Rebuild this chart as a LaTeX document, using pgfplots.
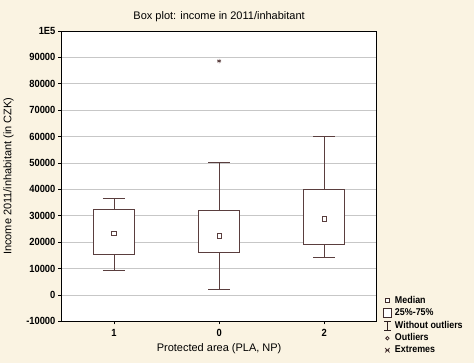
\documentclass[border=0pt]{standalone}
\usepackage{fontspec}
\setmainfont{Liberation Sans}
\newfontfamily\tickfont[FakeStretch=0.9]{Liberation Sans}
\usepackage{pgfplots}
\pgfplotsset{compat=1.18}
\definecolor{bg}{HTML}{FAF3E2}
\definecolor{bx}{HTML}{5A3E3E}
\begin{document}
\begin{tikzpicture}
\fill[bg] (0pt,0pt) rectangle (474pt,363pt);
\begin{axis}[
  at={(61pt,41.3pt)}, anchor=south west,
  scale only axis, width=315.7pt, height=290.7pt,
  xmin=0.5, xmax=3.5, ymin=-10000, ymax=100000,
  axis background/.style={fill=white},
  xtick={1,2,3}, xticklabels={1,0,2},
  ytick={-10000,0,10000,20000,30000,40000,50000,60000,70000,80000,90000,100000},
  yticklabels={-10000,0,10000,20000,30000,40000,50000,60000,70000,80000,90000,1E5},
  scaled y ticks=false,
  ymajorgrids, grid style={black!22, line width=0.8pt},
  axis line style={black, line width=0.9pt},
  tick style={black, line width=0.7pt},
  tick align=outside, major tick length=3pt,
  xtick pos=bottom, ytick pos=left,
  tick label style={font=\tickfont\fontsize{10.4}{12}\selectfont\bfseries},
  yticklabel style={xshift=0.5pt},
  xticklabel style={yshift=-1pt},
  title={Box plot: income in 2011/inhabitant},
  every axis title/.style={at={(axis description cs:0.5,1.048)}, anchor=center, font=\fontsize{11}{13}\selectfont},
  xlabel={Protected area (PLA, NP)},
  ylabel={Income 2011/inhabitant (in CZK)},
  every axis x label/.style={at={(axis description cs:0.5,-0.094)}, anchor=center, font=\fontsize{11}{13}\selectfont},
  every axis y label/.style={at={(axis description cs:-0.168,0.5)}, anchor=center, rotate=90, font=\fontsize{11}{13}\selectfont},
  legend style={at={(1.02,0.087)}, anchor=north west, draw=none, fill=none,
    font=\tickfont\fontsize{9.9}{11}\selectfont\bfseries, row sep=3pt, column sep=3.5pt, inner sep=0pt,
    nodes={inner sep=0pt, text height=7pt, text depth=2pt}},
  legend cell align=left,
  every axis plot/.append style={line width=0.8pt},
]
\addlegendimage{legend image code/.code={\draw[bx!70!black, line width=0.7pt, fill=white] (1.6pt,-2pt) rectangle (5.6pt,2pt);}}
\addlegendimage{legend image code/.code={\draw[bx!70!black, line width=0.7pt, fill=white] (0pt,-4.5pt) rectangle (7.5pt,4.5pt);}}
\addlegendimage{legend image code/.code={\draw[bx!50!black, line width=0.8pt] (3.75pt,-4.5pt)--(3.75pt,4.5pt) (0.5pt,4.5pt)--(7pt,4.5pt) (0.5pt,-4.5pt)--(7pt,-4.5pt);}}
\addlegendimage{legend image code/.code={\draw[bx!70!black, line width=0.8pt] (3.75pt,0pt) circle (1.7pt);}}
\addlegendimage{legend image code/.code={\draw[bx!70!black, line width=0.7pt] (1.5pt,-2.2pt)--(6pt,2.2pt) (1.5pt,2.2pt)--(6pt,-2.2pt) (2pt,0pt)--(5.5pt,0pt);}}
\legend{Median, 25\%-75\%, Without outliers, Outliers, Extremes}
% category "1" (x=1): whiskers 9200-36700, box 15500-32400
\addplot[forget plot, bx, no marks] coordinates {(1,32400) (1,36700)};
\addplot[forget plot, bx, no marks] coordinates {(0.895,36700) (1.105,36700)};
\addplot[forget plot, bx, no marks] coordinates {(1,15500) (1,9200)};
\addplot[forget plot, bx, no marks] coordinates {(0.895,9200) (1.105,9200)};
\addplot[forget plot, bx, no marks, fill=white] coordinates {(0.805,15500) (1.195,15500) (1.195,32400) (0.805,32400)} -- cycle;
% category "0" (x=2): whiskers 2000-50300, box 16200-32000
\addplot[forget plot, bx, no marks] coordinates {(2,32000) (2,50300)};
\addplot[forget plot, bx, no marks] coordinates {(1.895,50300) (2.105,50300)};
\addplot[forget plot, bx, no marks] coordinates {(2,16200) (2,2000)};
\addplot[forget plot, bx, no marks] coordinates {(1.895,2000) (2.105,2000)};
\addplot[forget plot, bx, no marks, fill=white] coordinates {(1.805,16200) (2.195,16200) (2.195,32000) (1.805,32000)} -- cycle;
% category "2" (x=3): whiskers 14300-60000, box 19300-39800
\addplot[forget plot, bx, no marks] coordinates {(3,39800) (3,60000)};
\addplot[forget plot, bx, no marks] coordinates {(2.895,60000) (3.105,60000)};
\addplot[forget plot, bx, no marks] coordinates {(3,19300) (3,14300)};
\addplot[forget plot, bx, no marks] coordinates {(2.895,14300) (3.105,14300)};
\addplot[forget plot, bx, no marks, fill=white] coordinates {(2.805,19300) (3.195,19300) (3.195,39800) (2.805,39800)} -- cycle;
% medians
\addplot[forget plot, only marks, mark=square, mark size=2.2pt, bx, line width=0.7pt, mark options={fill=white}] coordinates {(1,23300) (2,22400) (3,28800)};
% extreme
\addplot[forget plot, only marks, mark=asterisk, mark size=2.2pt, bx, line width=0.7pt] coordinates {(2,88600)};
\end{axis}
\end{tikzpicture}
\end{document}
